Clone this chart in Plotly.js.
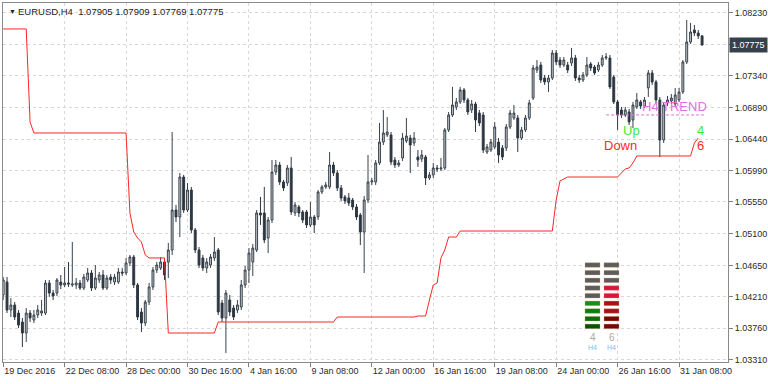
<!DOCTYPE html>
<html><head><meta charset="utf-8">
<script src="https://cdn.plot.ly/plotly-3.0.1.min.js"></script>
<style>html,body{margin:0;padding:0;background:#fff}#chart{width:768px;height:384px}</style>
</head><body><div id="chart"></div>
<script>
// EURUSD H4 candles (bar index 0 .. 182)
const openP = [
1.04231,1.04415,1.04018,1.04089,1.03975,1.03848,1.03692,1.03975,1.03876,1.03947,
1.03975,1.03975,1.04401,1.04259,1.04259,1.04415,1.04373,1.04401,1.04373,1.04373,
1.04401,1.04330,1.04444,1.04543,1.04330,1.04444,1.04515,1.04330,1.04486,1.04415,
1.04415,1.04557,1.04543,1.04685,1.04770,1.04373,1.03990,1.03834,1.04132,1.04345,
1.04585,1.04614,1.04699,1.04699,1.04869,1.05436,1.05337,1.05904,1.05436,1.05720,
1.05153,1.04869,1.04756,1.04614,1.04656,1.04756,1.04869,1.04117,1.03905,1.04160,
1.04047,1.04018,1.04061,1.04373,1.04585,1.04699,1.04869,1.05394,1.05394,1.05039,
1.05294,1.05975,1.06074,1.05834,1.05819,1.06032,1.05394,1.05479,1.05408,1.05408,
1.05224,1.05337,1.05337,1.05692,1.05763,1.05763,1.06074,1.05961,1.05748,1.05621,
1.05607,1.05578,1.05479,1.05365,1.05124,1.05578,1.05834,1.05834,1.06103,1.06400,
1.06500,1.06500,1.06145,1.06074,1.06174,1.06415,1.06457,1.06386,1.06188,1.06159,
1.06188,1.05890,1.05933,1.06032,1.06018,1.06032,1.06571,1.06783,1.06897,1.06968,
1.07138,1.06996,1.06854,1.06939,1.06811,1.06783,1.06259,1.06287,1.06330,1.06400,
1.06316,1.06316,1.06613,1.06741,1.06741,1.06457,1.06571,1.06741,1.07024,1.07421,
1.07492,1.07308,1.07251,1.07308,1.07662,1.07563,1.07492,1.07492,1.07521,1.07592,
1.07308,1.07280,1.07351,1.07506,1.07464,1.07421,1.07492,1.07592,1.07592,1.07322,
1.06968,1.06854,1.06783,1.06826,1.06712,1.06897,1.06968,1.06911,1.07166,1.07379,
1.07251,1.06996,1.06429,1.06954,1.06982,1.06939,1.06996,1.07110,1.07535,1.07818,
1.07989,1.07946,1.07905];
const highP = [
1.04486,1.04486,1.04188,1.04132,1.04018,1.03905,1.04047,1.04018,1.04018,1.04089,
1.04160,1.04444,1.04444,1.04302,1.04472,1.04515,1.04628,1.04699,1.04982,1.04472,
1.04444,1.04529,1.04614,1.04585,1.04656,1.04557,1.04585,1.04515,1.04529,1.04529,
1.04614,1.04614,1.04756,1.04798,1.04798,1.04401,1.04047,1.04160,1.04401,1.04628,
1.04699,1.04770,1.04756,1.04968,1.06542,1.05507,1.05961,1.05933,1.05819,1.05763,
1.05181,1.04912,1.04798,1.04756,1.04812,1.05053,1.04897,1.04160,1.04302,1.04231,
1.04089,1.04160,1.04444,1.04643,1.04897,1.04954,1.05436,1.05621,1.05763,1.05337,
1.06145,1.06145,1.06117,1.05862,1.06074,1.06188,1.05550,1.05507,1.05436,1.05436,
1.05550,1.05365,1.05720,1.05791,1.05834,1.06259,1.06117,1.06003,1.05791,1.05649,
1.05677,1.05607,1.05521,1.05394,1.05635,1.06216,1.05890,1.06145,1.06670,1.06854,
1.06755,1.06542,1.06188,1.06145,1.06528,1.06741,1.06500,1.06542,1.06287,1.06287,
1.06216,1.05975,1.06103,1.06074,1.06174,1.06599,1.06826,1.07181,1.07025,1.07181,
1.07166,1.07025,1.06996,1.06968,1.06854,1.06826,1.06372,1.06443,1.06684,1.06457,
1.06358,1.06656,1.06854,1.06925,1.06783,1.06613,1.06783,1.06996,1.07492,1.07563,
1.07535,1.07351,1.07351,1.07705,1.07705,1.07606,1.07606,1.07535,1.07734,1.07634,
1.07351,1.07393,1.07606,1.07535,1.07492,1.07535,1.07634,1.07662,1.07634,1.07351,
1.06996,1.06897,1.06897,1.06868,1.06968,1.07095,1.06996,1.07039,1.07421,1.07421,
1.07280,1.07039,1.06968,1.07053,1.07081,1.07166,1.07166,1.07563,1.08130,1.08088,
1.08060,1.07989,1.07909];
const lowP = [
1.04160,1.03975,1.03919,1.03876,1.03763,1.03494,1.03565,1.03848,1.03834,1.03905,
1.03933,1.03947,1.04203,1.04160,1.04217,1.04316,1.04345,1.04345,1.04345,1.04316,
1.04302,1.04302,1.04415,1.04288,1.04302,1.04401,1.04302,1.04302,1.04387,1.04373,
1.04387,1.04500,1.04515,1.04643,1.04330,1.03876,1.03706,1.03791,1.04089,1.04302,
1.04543,1.04585,1.04444,1.04472,1.04798,1.05266,1.05053,1.05394,1.05408,1.05110,
1.04826,1.04614,1.04571,1.04543,1.04614,1.04713,1.03947,1.03848,1.03408,1.03933,
1.03876,1.03975,1.04018,1.04330,1.04401,1.04500,1.04841,1.05224,1.04968,1.04826,
1.05251,1.05933,1.05791,1.05706,1.05777,1.05365,1.05351,1.05337,1.05251,1.05181,
1.05195,1.05110,1.05294,1.05663,1.05734,1.05734,1.05918,1.05706,1.05564,1.05521,
1.05493,1.05436,1.05294,1.04940,1.04543,1.05535,1.05791,1.05791,1.06074,1.06358,
1.06471,1.06074,1.06032,1.06046,1.06131,1.06386,1.05961,1.06344,1.06046,1.06117,
1.05791,1.05862,1.05890,1.05975,1.05989,1.06003,1.06542,1.06755,1.06854,1.06939,
1.06953,1.06783,1.06811,1.06542,1.06627,1.06244,1.06230,1.06259,1.06301,1.06103,
1.06145,1.06273,1.06585,1.06712,1.06259,1.06429,1.06542,1.06712,1.06996,1.07379,
1.07237,1.07209,1.07110,1.07280,1.07492,1.07450,1.07464,1.07379,1.07478,1.07266,
1.07237,1.07251,1.07322,1.07407,1.07351,1.07393,1.07464,1.07563,1.07152,1.06939,
1.06571,1.06741,1.06755,1.06642,1.06599,1.06868,1.06868,1.06883,1.07039,1.07209,
1.06953,1.06188,1.06386,1.06911,1.06939,1.06897,1.06968,1.07081,1.07506,1.07790,
1.07904,1.07861,1.07769];
const closeP = [
1.04444,1.04018,1.04089,1.03919,1.03805,1.03692,1.03975,1.03905,1.03947,1.04018,
1.04004,1.04401,1.04259,1.04217,1.04444,1.04373,1.04401,1.04387,1.04387,1.04401,
1.04330,1.04486,1.04543,1.04330,1.04472,1.04515,1.04330,1.04472,1.04444,1.04486,
1.04557,1.04543,1.04685,1.04770,1.04373,1.03919,1.03834,1.04132,1.04345,1.04585,
1.04656,1.04699,1.04515,1.04869,1.05436,1.05337,1.05904,1.05436,1.05720,1.05153,
1.04869,1.04656,1.04614,1.04699,1.04770,1.04841,1.03990,1.03905,1.04259,1.03990,
1.03919,1.04089,1.04373,1.04585,1.04826,1.04897,1.05394,1.05365,1.05011,1.05294,
1.05975,1.06074,1.05834,1.05748,1.06032,1.05408,1.05507,1.05394,1.05294,1.05224,
1.05337,1.05224,1.05692,1.05763,1.05791,1.06074,1.05961,1.05748,1.05607,1.05564,
1.05535,1.05479,1.05337,1.05124,1.05578,1.05834,1.05848,1.06103,1.06400,1.06528,
1.06542,1.06117,1.06074,1.06103,1.06457,1.06485,1.06358,1.06457,1.06145,1.06216,
1.05890,1.05933,1.06032,1.06018,1.06032,1.06571,1.06783,1.06925,1.06968,1.07138,
1.06996,1.06826,1.06939,1.06712,1.06670,1.06287,1.06330,1.06400,1.06613,1.06216,
1.06188,1.06613,1.06811,1.06811,1.06457,1.06571,1.06741,1.06954,1.07450,1.07464,
1.07280,1.07251,1.07308,1.07662,1.07535,1.07492,1.07563,1.07421,1.07592,1.07308,
1.07280,1.07351,1.07492,1.07450,1.07379,1.07492,1.07592,1.07606,1.07181,1.06968,
1.06783,1.06783,1.06854,1.06684,1.06925,1.06996,1.06911,1.06996,1.07379,1.07251,
1.06996,1.06429,1.06925,1.06996,1.07024,1.07067,1.07110,1.07535,1.07818,1.07960,
1.07946,1.07904,1.07775];

// red trailing-stop indicator (bar index -> level)
const stopIdx = [0,6,7,8,32,33,34,35,36,37,38,42,43,55,56,86,87,107,108,110,111,112,113,114,115,116,118,119,143,144,145,146,147,160,161,162,163,164,165,179,180,181];
const stopVal = [1.08003,1.08003,1.06684,1.06528,1.06528,1.05394,1.05124,1.05039,1.04982,1.04798,1.04756,1.04756,1.03692,1.03692,1.03848,1.03848,1.03919,1.03919,1.03933,1.03933,1.04160,1.04373,1.04401,1.04756,1.04869,1.05053,1.05053,1.05138,1.05138,1.05578,1.05848,1.05876,1.05904,1.05904,1.05961,1.06018,1.06032,1.06103,1.06202,1.06202,1.06386,1.06457];

const xTickIdx = [0,16,32,48,64,80,96,112,128,144,160,176];
const xTickText = ['19 Dec 2016','22 Dec 08:00','28 Dec 00:00','30 Dec 16:00','4 Jan 16:00','9 Jan 08:00','12 Jan 00:00','16 Jan 16:00','19 Jan 08:00','24 Jan 00:00','26 Jan 16:00','31 Jan 08:00'];
const yTickVals = [1.08230,1.07785,1.07340,1.06890,1.06440,1.05990,1.05550,1.05100,1.04650,1.04210,1.03760,1.03310];
const yTickText = ['1.08230','','1.07340','1.06890','1.06440','1.05990','1.05550','1.05100','1.04650','1.04210','1.03760','1.03310'];

const headerValues = ['1.07905','1.07909','1.07769','1.07775'];
const trendLevel = [1.06784];
const signalLabels = ['Up','Down'];
const signalCounts = [4, 6];
const stackSize = [9];

const barIdx = closeP.map((_, i) => i);
const FONT = 'Liberation Sans, Arial, sans-serif';

// pixel -> paper helpers (plot area: x 3..728, y 3..362)
const PX = x => (x - 3) / 725;
const PY = y => (362 - y) / 359;

const traces = [
  {
    type: 'candlestick', x: barIdx, open: openP, high: highP, low: lowP, close: closeP,
    increasing: {line: {color: '#39434d', width: 1}, fillcolor: '#c4c8cc'},
    decreasing: {line: {color: '#2d3741', width: 1}, fillcolor: '#2d3741'},
    whiskerwidth: 0, hoverinfo: 'skip'
  },
  {
    type: 'scatter', mode: 'lines', x: stopIdx, y: stopVal,
    line: {color: '#ff2626', width: 1}, hoverinfo: 'skip'
  }
];

const shapes = [
  {type: 'line', xref: 'x', yref: 'y', x0: 157, x1: 182.8, y0: trendLevel[0], y1: trendLevel[0],
   line: {color: '#e070e0', width: 1, dash: '3px,2px'}}
];

// strength stacks
const upShades = ['#055505', '#0a6e0a', '#107c10', '#1f8a1f'];
const downShades = ['#780808', '#780808', '#a8101e', '#a8101e', '#dc143c', '#dc143c'];
const grayBlock = '#5c5c5c';
const colX = [[585, 600], [604, 619]];
for (let c = 0; c < 2; c++) {
  for (let k = 0; k < stackSize[0]; k++) {
    const b = stackSize[0] - 1 - k;
    let col = grayBlock;
    if (c === 0 && b < signalCounts[0]) col = upShades[b];
    if (c === 1 && b < signalCounts[1]) col = downShades[b];
    const yc = 265 + 7.67 * k;
    shapes.push({type: 'rect', xref: 'paper', yref: 'paper',
      x0: PX(colX[c][0]), x1: PX(colX[c][1]), y0: PY(yc + 2.3), y1: PY(yc - 2.3),
      fillcolor: col, line: {color: 'rgba(214,170,120,0.55)', width: 0.6}});
  }
}

const annotations = [
  {xref: 'paper', yref: 'paper', x: PX(7), y: PY(11), xanchor: 'left', yanchor: 'middle', showarrow: false,
   text: '\u25BC', font: {family: FONT, size: 7, color: '#222'}},
  {xref: 'paper', yref: 'paper', x: PX(16), y: PY(11), xanchor: 'left', yanchor: 'middle', showarrow: false,
   text: 'EURUSD,H4\u00a0\u00a0' + headerValues.join(' '), font: {family: FONT, size: 9.5, color: '#222'}},
  {xref: 'paper', yref: 'y', x: 1, y: closeP[closeP.length - 1], xanchor: 'left', yanchor: 'middle', xshift: 1,
   showarrow: false, text: '1.07775', bgcolor: '#36414b', borderpad: 2, font: {family: FONT, size: 9, color: '#ffffff'}},
  {xref: 'paper', yref: 'paper', x: PX(640), y: PY(106), xanchor: 'left', yanchor: 'middle', showarrow: false,
   text: 'H4 TREND', font: {family: FONT, size: 13, color: '#e070e0'}},
  {xref: 'paper', yref: 'paper', x: PX(621), y: PY(130), xanchor: 'left', yanchor: 'middle', showarrow: false,
   text: signalLabels[0], font: {family: FONT, size: 13, color: '#3fe63f'}},
  {xref: 'paper', yref: 'paper', x: PX(602), y: PY(145), xanchor: 'left', yanchor: 'middle', showarrow: false,
   text: signalLabels[1], font: {family: FONT, size: 13, color: '#ff2a2a'}},
  {xref: 'paper', yref: 'paper', x: PX(700), y: PY(130), xanchor: 'center', yanchor: 'middle', showarrow: false,
   text: String(signalCounts[0]), font: {family: FONT, size: 13, color: '#3fe63f'}},
  {xref: 'paper', yref: 'paper', x: PX(700), y: PY(145), xanchor: 'center', yanchor: 'middle', showarrow: false,
   text: String(signalCounts[1]), font: {family: FONT, size: 13, color: '#ff2a2a'}},
  {xref: 'paper', yref: 'paper', x: PX(592.5), y: PY(337), xanchor: 'center', yanchor: 'middle', showarrow: false,
   text: String(signalCounts[0]), font: {family: FONT, size: 10, color: '#a8a8a8'}},
  {xref: 'paper', yref: 'paper', x: PX(611.5), y: PY(337), xanchor: 'center', yanchor: 'middle', showarrow: false,
   text: String(signalCounts[1]), font: {family: FONT, size: 10, color: '#a8a8a8'}},
  {xref: 'paper', yref: 'paper', x: PX(592.5), y: PY(347), xanchor: 'center', yanchor: 'middle', showarrow: false,
   text: 'H4', font: {family: FONT, size: 7, color: '#7dbde8'}},
  {xref: 'paper', yref: 'paper', x: PX(611.5), y: PY(347), xanchor: 'center', yanchor: 'middle', showarrow: false,
   text: 'H4', font: {family: FONT, size: 7, color: '#7dbde8'}}
];

const layout = {
  width: 768, height: 384,
  margin: {l: 3, r: 40, t: 3, b: 22, pad: 0},
  paper_bgcolor: '#ffffff', plot_bgcolor: '#ffffff',
  showlegend: false,
  font: {family: FONT, size: 9, color: '#2a2a2a'},
  xaxis: {
    type: 'linear', range: [-0.05, 188.75], rangeslider: {visible: false},
    tickmode: 'array', tickvals: xTickIdx, ticktext: xTickText,
    ticks: 'outside', ticklen: 4, tickcolor: '#808080', tickangle: 0,
    ticklabelposition: 'outside right',
    tickfont: {family: FONT, size: 9, color: '#2a2a2a'},
    showgrid: true, gridcolor: '#d8d8d8', griddash: '3px,3px', gridwidth: 1,
    showline: true, linecolor: '#8a8a8a', linewidth: 1, mirror: true,
    zeroline: false, fixedrange: true
  },
  yaxis: {
    side: 'right', range: [1.03281, 1.08371],
    tickmode: 'array', tickvals: yTickVals, ticktext: yTickText,
    ticks: 'outside', ticklen: 4, tickcolor: '#808080',
    tickfont: {family: FONT, size: 9, color: '#2a2a2a'},
    showgrid: true, gridcolor: '#d8d8d8', griddash: '3px,3px', gridwidth: 1,
    showline: true, linecolor: '#8a8a8a', linewidth: 1, mirror: true,
    zeroline: false, fixedrange: true
  },
  shapes: shapes,
  annotations: annotations
};

Plotly.newPlot('chart', traces, layout, {staticPlot: true, displayModeBar: false});
</script>
</body></html>
